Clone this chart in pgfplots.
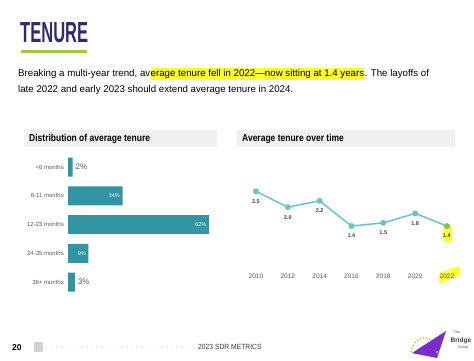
\documentclass[border=0pt]{standalone}
\usepackage{fontspec}
\setmainfont{Liberation Sans}
\usepackage{pgfplots}
\pgfplotsset{compat=1.18}
\definecolor{navy}{HTML}{2E2B6E}
\definecolor{limeg}{HTML}{A4C93A}
\definecolor{hl}{HTML}{FFFF33}
\definecolor{hdr}{HTML}{F0F0F0}
\definecolor{barteal}{HTML}{3195A4}
\definecolor{lineteal}{HTML}{6CC4CB}
\definecolor{greenmk}{HTML}{7CC142}
\definecolor{labgray}{HTML}{595959}
\definecolor{darkg}{HTML}{404040}
\definecolor{purp}{HTML}{7B2DC9}
\begin{document}
\begin{tikzpicture}[x=1pt,y=1pt]
\path[use as bounding box] (0,0) rectangle (474,360);
\fill[white] (0,0) rectangle (474,360);
% title
\node[anchor=base west, inner sep=0, text=navy] at (20,360-42) {\scalebox{0.57}[1]{\fontsize{29}{29}\selectfont\bfseries TENURE}};
\fill[limeg] (21,360-50) rectangle (87,360-53);
% paragraph
\begin{scope}[every node/.style={anchor=base west, inner xsep=0pt, inner ysep=0pt, font=\fontsize{9.7}{11}\selectfont, text=black}]
\node (p1) at (18,360-76.5) {Breaking a multi-year trend, av};
\node[fill=hl, inner ysep=1.2pt] (p2) at (p1.base east) {erage tenure fell in 2022—now sitting at 1.4 years};
\node at (p2.base east) {. The layoffs of};
\node at (18,360-92.5) {late 2022 and early 2023 should extend average tenure in 2024.};
\end{scope}
% headers
\fill[hdr] (24,360-130) rectangle (217,360-147);
\node[anchor=west, inner sep=0] at (29,360-138.5) {\scalebox{0.85}[1]{\fontsize{10}{10}\selectfont\bfseries Distribution of average tenure}};
\fill[hdr] (237,360-130) rectangle (455,360-147);
\node[anchor=west, inner sep=0] at (242,360-138.5) {\scalebox{0.85}[1]{\fontsize{10}{10}\selectfont\bfseries Average tenure over time}};
% highlights on line chart
\fill[hl] (443,360-226) rectangle (452,360-242);
\fill[hl, rounded corners=2pt] (438.5,360-273) -- (439.5,360-284) -- (461,360-275) -- (459.5,360-266) -- cycle;
% bar chart
\begin{axis}[at={(68pt,63.6pt)}, anchor=south west, scale only axis,
  width=141pt, height=143.75pt, xmin=0, xmax=62, ymin=-0.5, ymax=4.5,
  xbar, bar width=19pt, axis line style={draw=none}, major tick length=0pt,
  xtick=\empty, ytick={0,1,2,3,4},
  yticklabels={36+ months,24-35 months,12-23 months,6-11 months,<6 months},
  yticklabel style={font=\fontsize{6}{6}\selectfont, text=labgray, inner sep=0pt, xshift=-4pt},
  clip=false]
\addplot[fill=barteal, draw=none, bar shift=0pt, nodes near coords, point meta=explicit symbolic,
  every node near coord/.append style={anchor=east, text=white, font=\fontsize{5.5}{6}\selectfont, inner sep=0pt, xshift=-2.5pt}]
  coordinates {(24,3) [24\%] (62,2) [62\%] (9,1) [9\%]};
\addplot[fill=barteal, draw=none, bar shift=0pt, nodes near coords, point meta=explicit symbolic,
  every node near coord/.append style={anchor=west, text=labgray, font=\fontsize{8}{8}\selectfont, inner sep=0pt, xshift=3pt}]
  coordinates {(2,4) [2\%] (3,0) [3\%]};
\end{axis}
% line chart
\begin{axis}[at={(232.1pt,92.1pt)}, anchor=south west, scale only axis,
  width=238.75pt, height=89.1pt, xmin=2008.5, xmax=2023.5, ymin=0.07, ymax=2.9,
  axis line style={draw=none}, major tick length=0pt, ytick=\empty,
  xtick={2010,2012,2014,2016,2018,2020,2022},
  xticklabels={2010,2012,2014,2016,2018,2020,2022},
  xticklabel style={font=\fontsize{6.5}{6.5}\selectfont, text=labgray, inner sep=0pt, anchor=center, yshift=-8.8pt},
  clip=false]
\addplot[color=lineteal, line width=1.5pt, mark=*, mark size=2.2pt, mark options={fill=lineteal, draw=lineteal},
  nodes near coords, point meta=explicit symbolic,
  every node near coord/.append style={anchor=center, text=darkg, font=\fontsize{5.5}{6}\selectfont\bfseries, inner sep=0pt, yshift=-10pt}]
  coordinates {(2010,2.5) [2.5] (2012,2.0) [2.0] (2014,2.2) [2.2] (2016,1.4) [1.4] (2018,1.5) [1.5] (2020,1.8) [1.8] (2022,1.4) [1.4]};
\addplot[only marks, mark=*, mark size=2.2pt, color=greenmk] coordinates {(2022,1.4)};
\end{axis}
% footer
\node[anchor=base west, inner sep=0, font=\fontsize{8.5}{9}\selectfont\bfseries] at (12,360-350) {20};
\fill[gray!35] (34,360-342) rectangle (43,360-352);
\foreach \i in {0,...,29} \fill[gray!45] (47+5*\i,360-347) circle (0.6);
\node[anchor=west, inner sep=0, text=darkg] at (198,360-347) {\scalebox{0.9}[1]{\fontsize{7.5}{8}\selectfont 2023 SDR METRICS}};
% logo
\draw[limeg, dotted, line width=1.3pt] (411,360-352) .. controls (413,360-336) and (432,360-331) .. (437,360-350);
\fill[purp] (412,360-353) -- (446,360-331) -- (437,360-358) -- cycle;
\fill[limeg] (437,360-352) circle (1.4);
\node[inner sep=0, text=darkg, font=\fontsize{3.5}{4}\selectfont] at (457,360-332) {The};
\node[inner sep=0, text=darkg, font=\fontsize{6.5}{7}\selectfont\bfseries] at (461,360-341) {Bridge};
\node[inner sep=0, text=darkg, font=\fontsize{3.5}{4}\selectfont] at (463,360-348) {Group};
\end{tikzpicture}
\end{document}
